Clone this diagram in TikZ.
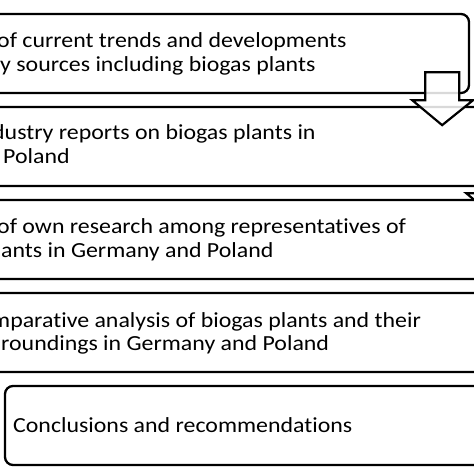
\documentclass[tikz,border=0pt]{standalone}
\usepackage{fontspec}
\setmainfont{Carlito}[FakeStretch=1.11, Ligatures=CommonOff]
\usepackage{tikz}
\usetikzlibrary{calc}

\tikzset{
	stepbox/.style={draw, line width=2.3pt, rounded corners=8pt, fill=white,
		minimum width=680pt, minimum height=79pt, inner sep=0pt},
	txt/.style={anchor=base west, inner sep=0pt, font=\fontsize{21.5}{24}\selectfont},
	steparrow/.pic={
		\draw[line width=2.2pt, fill=white, fill opacity=0.85, line join=miter]
			(-45,-22) -- (-11,-22) -- (-11,6) -- (3,6) -- (-28,31)
			-- (-58,6) -- (-45,6) -- cycle;
	}
}

\begin{document}
\begin{tikzpicture}[x=1pt, y=-1pt]
	\useasboundingbox (0,0) rectangle (474,474);
	\clip (0,0) rectangle (474,474);

	\foreach \i in {1,...,5}
	\node[stepbox] (b\i) at ({345 - (5-\i)*54}, {53.5 + (\i-1)*93}) {};

	\foreach \i in {1,...,4}
	\pic at (b\i.south east) {steparrow};

	\node[txt] (t1a) at (-3,47) {of current trends and developments};
	\node[txt] (t1b) at (0,71) {y sources including biogas plants};
	\node[txt] (t2a) at (-8,139) {dustry reports on biogas plants in};
	\node[txt] (t2b) at (3,163) {Poland};
	\node[txt] (t3a) at (-3,233) {of own research among representatives of};
	\node[txt] (t3b) at (1,257) {ants in Germany and Poland};
	\node[txt] (t4a) at (-9,327) {mparative analysis of biogas plants and their};
	\node[txt] (t4b) at (1,350) {roundings in Germany and Poland};
	\node[txt] (t5) at (13,432) {Conclusions and recommendations};
\end{tikzpicture}
\end{document}
